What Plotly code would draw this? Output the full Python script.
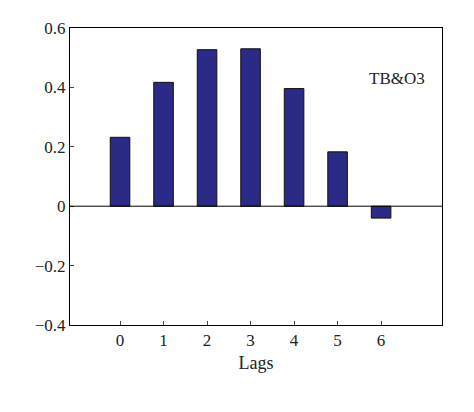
import plotly.graph_objects as go

lags = [0, 1, 2, 3, 4, 5, 6]
values = [0.232, 0.417, 0.527, 0.530, 0.396, 0.183, -0.040]
yticks = [-0.4, -0.2, 0, 0.2, 0.4, 0.6]
ytext = ["\u22120.4", "\u22120.2", "0", "0.2", "0.4", "0.6"]

fig = go.Figure(go.Bar(x=lags, y=values, width=0.45,
                       marker=dict(color="#2B2A86", line=dict(color="#111", width=1))))
fig.add_hline(y=0, line=dict(color="black", width=1))
fig.add_annotation(x=0.96, y=0.87, xref="paper", yref="paper", text="TB&O3",
                   showarrow=False, xanchor="right", font=dict(size=17, color="#222"))
axis_common = dict(showgrid=False, zeroline=False, mirror=True, showline=True,
                   linecolor="black", linewidth=1, ticks="inside", ticklen=4,
                   tickfont=dict(size=17, color="#222"))
fig.update_xaxes(range=[-1.15, 7.4], tickvals=lags, title=dict(text="Lags", font=dict(size=18, color="#222"), standoff=6), **axis_common)
fig.update_yaxes(range=[-0.4, 0.6], tickvals=yticks, ticktext=ytext, **axis_common)
fig.update_layout(width=474, height=412, margin=dict(l=62, r=40, t=20, b=95),
                  plot_bgcolor="white", paper_bgcolor="white",
                  font=dict(family="Liberation Serif"), showlegend=False)
fig.write_html("out.html")
